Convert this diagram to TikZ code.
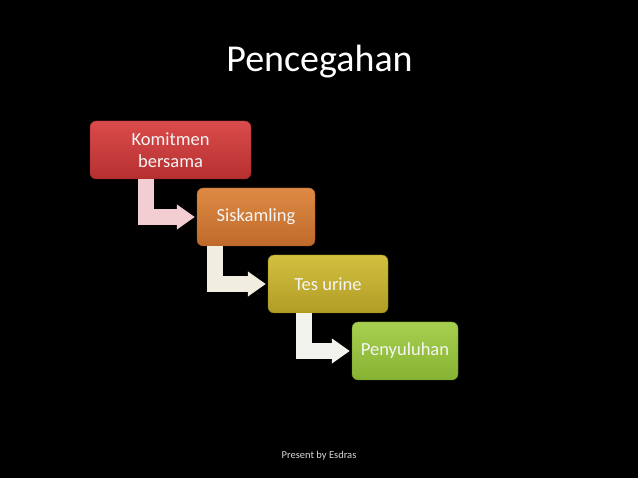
\documentclass[tikz,border=0pt]{standalone}
\usepackage{fontspec}
\setmainfont{Carlito}
\usepackage{xcolor}
\usetikzlibrary{arrows.meta}
\definecolor{komitTop}{HTML}{DB4B4B}
\definecolor{komitBot}{HTML}{B53030}
\definecolor{siskaTop}{HTML}{DE8A45}
\definecolor{siskaBot}{HTML}{BF6A2A}
\definecolor{urineTop}{HTML}{D3C040}
\definecolor{urineBot}{HTML}{B19C25}
\definecolor{penyTop}{HTML}{A8D050}
\definecolor{penyBot}{HTML}{86B232}
\definecolor{arrowPink}{HTML}{F2CDD1}
\definecolor{arrowCream}{HTML}{F2EEDF}
\definecolor{arrowWhite}{HTML}{F2F3EC}
\tikzstyle{stepbox} = [rectangle, draw, rounded corners=6pt, text=white!96!black,
    font=\fontsize{18.5}{21.5}\selectfont, align=center, inner sep=0pt, minimum height=58pt]
\tikzstyle{bentarrow} = [draw, line width=16pt, -{Triangle[width=24pt,length=18pt]}, shorten >=2pt]

\begin{document}
\begin{tikzpicture}[x=1pt, y=-1pt, node distance=67pt]
    % Background
    \fill[black] (0,0) rectangle (638,478);
    \useasboundingbox (0,0) rectangle (638,478);
    % Title and footer
    \node[text=white, font=\fontsize{38}{42}\selectfont] (title) at (319.5,61.5) {Pencegahan};
    \node[text=white!85!black, font=\fontsize{10.5}{12}\selectfont] (footer) at (319,455.5) {Present by Esdras};
    % Place nodes
    \node [stepbox, minimum width=161pt, top color=komitTop, bottom color=komitBot, draw=komitBot!80!black] (komitmen) at (170.5,150) {Komitmen\\bersama};
    \node [stepbox, minimum width=118pt, top color=siskaTop, bottom color=siskaBot, draw=siskaBot!80!black, below of=komitmen, xshift=85.5pt] (siskamling) {Siskamling};
    \node [stepbox, minimum width=120pt, top color=urineTop, bottom color=urineBot, draw=urineBot!80!black, below of=siskamling, xshift=72pt] (tesUrine) {Tes urine};
    \node [stepbox, minimum width=106pt, top color=penyTop, bottom color=penyBot, draw=penyBot!80!black, below of=tesUrine, xshift=77pt] (penyuluhan) {Penyuluhan};
    % Connectors
    \path [bentarrow, draw=arrowPink] ([xshift=56pt]komitmen.south west) |- (siskamling.west);
    \path [bentarrow, draw=arrowCream] ([xshift=18pt]siskamling.south west) |- (tesUrine.west);
    \path [bentarrow, draw=arrowWhite] ([xshift=36.5pt]tesUrine.south west) |- (penyuluhan.west);
\end{tikzpicture}
\end{document}
